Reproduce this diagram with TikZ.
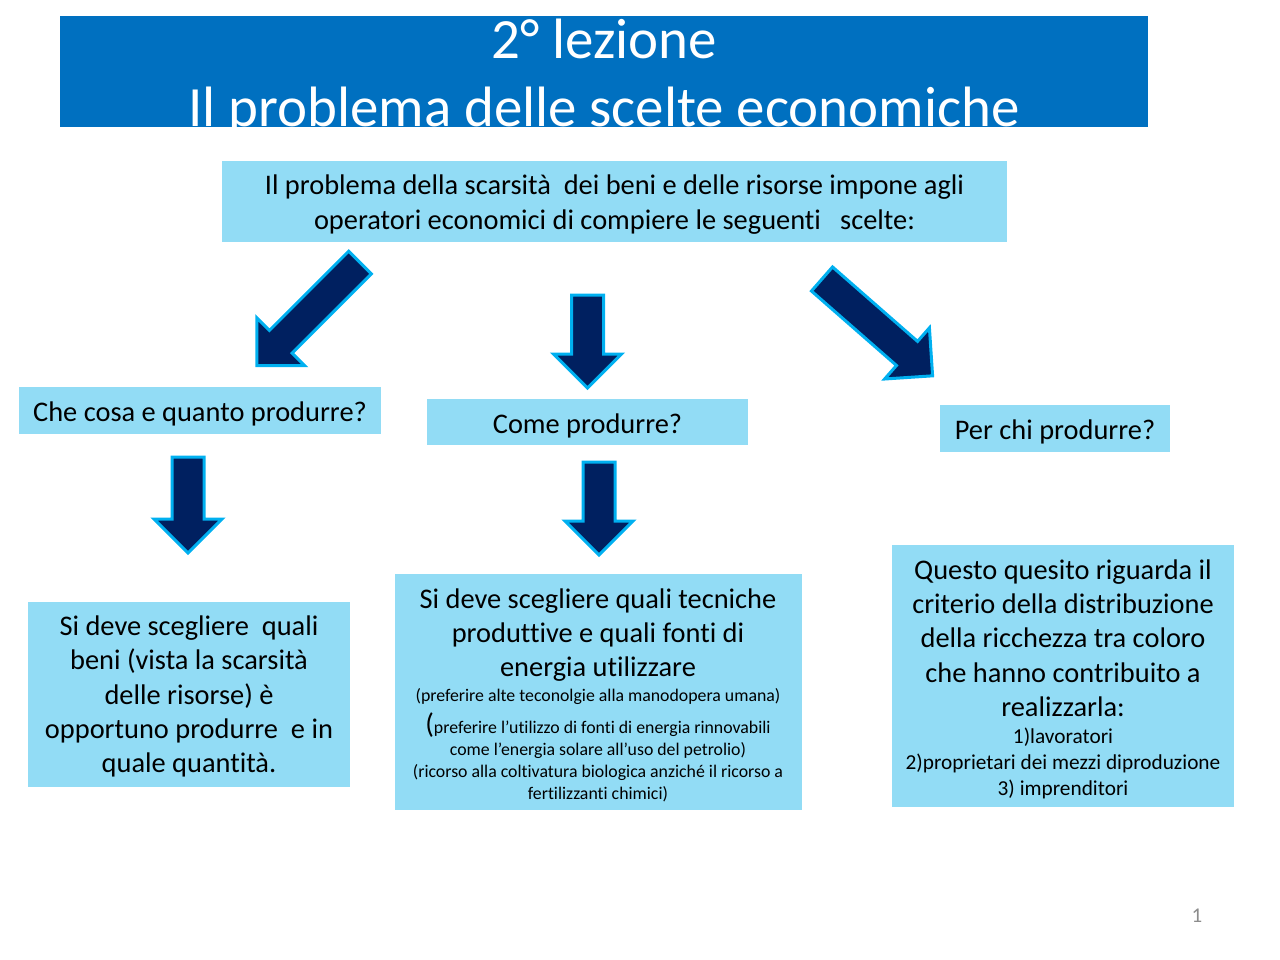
\documentclass[tikz,border=0pt]{standalone}
\usepackage{fontspec}
\setmainfont[Ligatures=NoCommon]{Carlito}
\usetikzlibrary{positioning}
\definecolor{titleblue}{HTML}{0070C0}
\definecolor{boxblue}{HTML}{92DCF5}
\definecolor{arrownavy}{HTML}{002060}
\definecolor{arrowedge}{HTML}{00B0F0}
\definecolor{pagegray}{HTML}{8C8C8C}

% tail, angle, length
\newcommand{\bigarrow}[3]{\draw [blockarrow,shift={#1},rotate=#2] (0,-16) -- (#3-34,-16) -- (#3-34,-34) -- (#3,0) -- (#3-34,34) -- (#3-34,16) -- (0,16) -- cycle;}

\begin{document}
\begin{tikzpicture}[x=1pt,y=-1pt,
  box/.style={fill=boxblue,inner sep=0pt},
  bigtext/.style={align=center,inner sep=0pt,font=\fontsize{28.4}{34.25}\selectfont},
  blockarrow/.style={fill=arrownavy,draw=arrowedge,line width=3pt,line join=miter}]
\useasboundingbox (0,0) rectangle (1280,960);

\node [fill=titleblue,minimum width=1088pt,minimum height=111pt,inner sep=0pt] (banner) at (604,71.5) {};
\begin{scope}
\clip (banner.south west) rectangle (banner.north east);
\node [anchor=base,text=white,font=\fontsize{56.9}{69}\selectfont] (title1) at (604,59) {2° lezione};
\node [anchor=base,text=white,font=\fontsize{56.9}{69}\selectfont] (title2) at (604,127) {Il problema delle scelte economiche};
\end{scope}

\node [box,minimum width=785pt,minimum height=81pt] (intro) at (614.5,201.5) {};
\node [bigtext] (introtext) at (614.5,204.5) {Il problema della scarsità\ \ dei beni e delle risorse impone agli\\ operatori economici di compiere le seguenti\ \ \ scelte:};

\node [box,minimum width=362pt,minimum height=47pt] (what) at (200,410.5) {};
\node [bigtext] (whattext) at (200,413.5) {Che cosa e quanto produrre?};
\node [box,minimum width=321pt,minimum height=46pt] (how) at (587.5,422) {};
\node [bigtext] (howq) at (587.5,425.5) {Come produrre?};
\node [box,minimum width=230pt,minimum height=47pt] (whom) at (1055,428.5) {};
\node [bigtext] (whomq) at (1055,431.5) {Per chi produrre?};

\node [box,minimum width=322pt,minimum height=185pt] (whatans) at (189,694.5) {};
\node [bigtext] (whatanstext) at (189,696.5) {Si deve scegliere\ \ quali\\ beni (vista la scarsità\\ delle risorse) è\\ opportuno produrre\ \ e in\\ quale quantità.};

\node [box,minimum width=407pt,minimum height=236pt] (howans) at (598.5,692) {};
\node [bigtext] (howtext) at (598,635) {Si deve scegliere quali tecniche\\ produttive e quali fonti di\\ energia utilizzare};
\node [align=center,inner sep=0pt,font=\fontsize{17.8}{22}\selectfont] (hownote) at (598,745) {(preferire alte teconolgie alla manodopera umana)\\[10pt] \smash{\fontsize{28.4}{28.4}\selectfont(}preferire l’utilizzo di fonti di energia rinnovabili\\ come l’energia solare all’uso del petrolio)\\ (ricorso alla coltivatura biologica anziché il ricorso a\\ fertilizzanti chimici)};

\node [box,minimum width=342pt,minimum height=262pt] (whomans) at (1063,676) {};
\node [bigtext] (whomtext) at (1063,638) {Questo quesito riguarda il\\ criterio della distribuzione\\ della ricchezza tra coloro\\ che hanno contribuito a\\ realizzarla:};
\node [align=center,inner sep=0pt,font=\fontsize{21.3}{26}\selectfont] (whomlist) at (1063,763) {1)lavoratori\\ 2)proprietari dei mezzi diproduzione\\ 3) imprenditori};

\bigarrow{(360,262.5)}{-135}{146}
\bigarrow{(587.5,295)}{-90}{93}
\bigarrow{(822,279)}{-41.2}{147}
\bigarrow{(188,457)}{-90}{96}
\bigarrow{(599,462)}{-90}{93}

\node [text=pagegray,font=\fontsize{21}{25}\selectfont] (pagenum) at (1197,916) {1};
\end{tikzpicture}
\end{document}
